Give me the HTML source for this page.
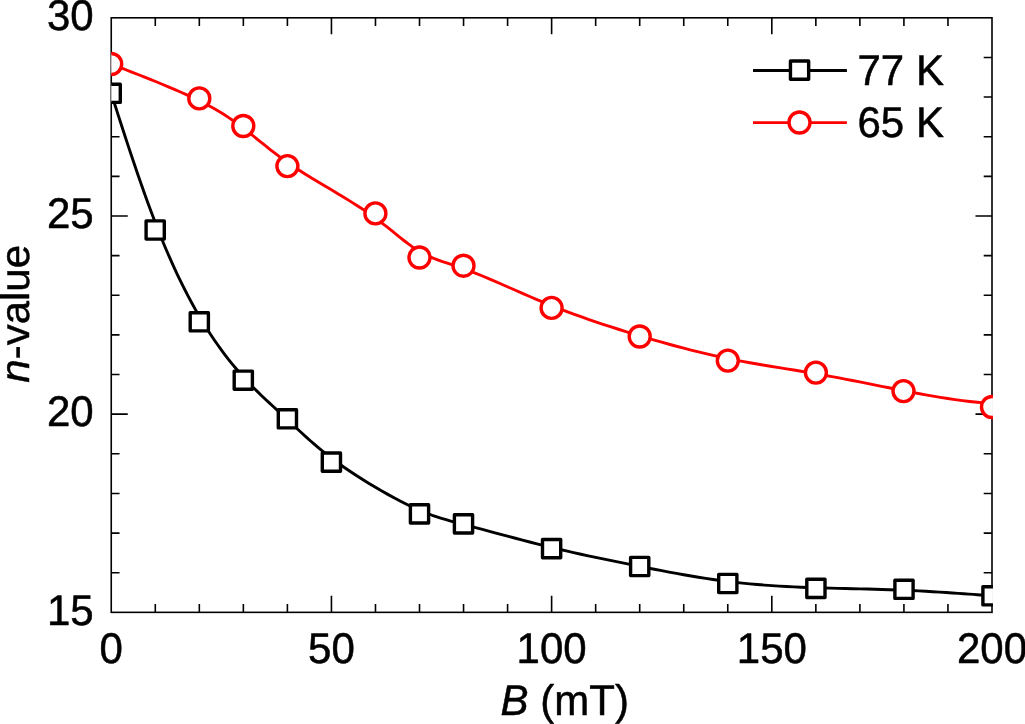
<!DOCTYPE html>
<html lang="en"><head><meta charset="utf-8"><title>n-value vs B</title>
<style>html,body{margin:0;padding:0;background:#fff;overflow:hidden}body{width:1025px;height:724px}svg{display:block;text-rendering:geometricPrecision}text{font-family:"Liberation Sans",sans-serif;font-size:42px;fill:#000}</style></head><body>
<svg width="1025" height="724" viewBox="0 0 1025 724">
<rect x="0" y="0" width="1025" height="724" fill="#fff"/>
<defs><clipPath id="plot"><rect x="111.25" y="16.80" width="881.70" height="596.55"/></clipPath></defs>
<path d="M155.29 612.35 v-8.30 M155.29 17.80 v8.30 M199.32 612.35 v-8.30 M199.32 17.80 v8.30 M243.36 612.35 v-8.30 M243.36 17.80 v8.30 M287.40 612.35 v-8.30 M287.40 17.80 v8.30 M331.44 612.35 v-16.50 M331.44 17.80 v16.50 M375.48 612.35 v-8.30 M375.48 17.80 v8.30 M419.51 612.35 v-8.30 M419.51 17.80 v8.30 M463.55 612.35 v-8.30 M463.55 17.80 v8.30 M507.59 612.35 v-8.30 M507.59 17.80 v8.30 M551.62 612.35 v-16.50 M551.62 17.80 v16.50 M595.66 612.35 v-8.30 M595.66 17.80 v8.30 M639.70 612.35 v-8.30 M639.70 17.80 v8.30 M683.74 612.35 v-8.30 M683.74 17.80 v8.30 M727.77 612.35 v-8.30 M727.77 17.80 v8.30 M771.81 612.35 v-16.50 M771.81 17.80 v16.50 M815.85 612.35 v-8.30 M815.85 17.80 v8.30 M859.89 612.35 v-8.30 M859.89 17.80 v8.30 M903.92 612.35 v-8.30 M903.92 17.80 v8.30 M947.96 612.35 v-8.30 M947.96 17.80 v8.30 M111.25 572.71 h8.30 M992.00 572.71 h-8.30 M111.25 533.08 h8.30 M992.00 533.08 h-8.30 M111.25 493.44 h8.30 M992.00 493.44 h-8.30 M111.25 453.80 h8.30 M992.00 453.80 h-8.30 M111.25 414.17 h16.50 M992.00 414.17 h-16.50 M111.25 374.53 h8.30 M992.00 374.53 h-8.30 M111.25 334.89 h8.30 M992.00 334.89 h-8.30 M111.25 295.26 h8.30 M992.00 295.26 h-8.30 M111.25 255.62 h8.30 M992.00 255.62 h-8.30 M111.25 215.98 h16.50 M992.00 215.98 h-16.50 M111.25 176.35 h8.30 M992.00 176.35 h-8.30 M111.25 136.71 h8.30 M992.00 136.71 h-8.30 M111.25 97.07 h8.30 M992.00 97.07 h-8.30 M111.25 57.44 h8.30 M992.00 57.44 h-8.30" fill="none" stroke="#000" stroke-width="1.6"/>
<rect x="111.25" y="17.80" width="880.75" height="594.55" fill="none" stroke="#000" stroke-width="1.6"/>
<g clip-path="url(#plot)">
<path d="M111.20 93.30 L111.20 93.31 L111.23 93.41 L111.31 93.66 L111.47 94.14 L111.73 94.95 L112.12 96.15 L112.66 97.82 L113.37 100.05 L114.29 102.91 L115.44 106.48 L116.85 110.85 L118.53 116.08 L120.52 122.24 L122.78 129.23 L125.29 136.97 L128.04 145.34 L130.99 154.24 L134.12 163.56 L137.40 173.20 L140.81 183.06 L144.32 193.02 L147.91 202.99 L151.55 212.86 L155.22 222.52 L158.89 231.88 L162.56 240.94 L166.23 249.71 L169.90 258.18 L173.58 266.36 L177.25 274.27 L180.92 281.90 L184.60 289.27 L188.27 296.38 L191.94 303.24 L195.61 309.86 L199.28 316.23 L202.95 322.38 L206.62 328.30 L210.29 334.00 L213.96 339.50 L217.63 344.79 L221.30 349.89 L224.97 354.81 L228.64 359.55 L232.31 364.12 L235.98 368.53 L239.65 372.79 L243.32 376.90 L246.99 380.88 L250.66 384.73 L254.33 388.47 L258.00 392.12 L261.68 395.68 L265.35 399.19 L269.02 402.63 L272.70 406.04 L276.37 409.43 L280.04 412.80 L283.71 416.18 L287.38 419.58 L291.06 423.01 L294.76 426.48 L298.51 429.98 L302.33 433.52 L306.26 437.10 L310.32 440.72 L314.52 444.40 L318.91 448.12 L323.50 451.88 L328.32 455.71 L333.39 459.58 L338.75 463.52 L344.40 467.50 L350.30 471.52 L356.41 475.54 L362.67 479.53 L369.04 483.46 L375.45 487.31 L381.86 491.04 L388.23 494.62 L394.49 498.03 L400.60 501.24 L406.50 504.22 L412.15 506.93 L417.51 509.37 L422.61 511.55 L427.51 513.50 L432.26 515.26 L436.91 516.86 L441.50 518.34 L446.09 519.72 L450.74 521.03 L455.49 522.32 L460.39 523.62 L465.49 524.95 L470.85 526.35 L476.50 527.84 L482.44 529.43 L488.63 531.09 L495.04 532.82 L501.67 534.60 L508.47 536.41 L515.42 538.26 L522.51 540.12 L529.69 541.99 L536.95 543.84 L544.26 545.67 L551.60 547.47 L558.94 549.22 L566.28 550.93 L573.62 552.59 L580.97 554.23 L588.31 555.82 L595.65 557.39 L602.99 558.93 L610.33 560.45 L617.67 561.94 L625.02 563.42 L632.36 564.89 L639.70 566.35 L647.04 567.80 L654.38 569.24 L661.72 570.66 L669.07 572.05 L676.41 573.41 L683.75 574.73 L691.09 576.01 L698.43 577.23 L705.77 578.40 L713.12 579.50 L720.46 580.53 L727.80 581.48 L735.14 582.35 L742.48 583.15 L749.82 583.86 L757.17 584.51 L764.51 585.09 L771.85 585.61 L779.19 586.08 L786.53 586.49 L793.88 586.86 L801.22 587.19 L808.56 587.48 L815.90 587.73 L823.24 587.96 L830.58 588.17 L837.92 588.36 L845.27 588.54 L852.61 588.71 L859.95 588.88 L867.29 589.06 L874.63 589.25 L881.97 589.46 L889.31 589.69 L896.65 589.94 L903.98 590.23 L911.31 590.56 L918.59 590.92 L925.76 591.30 L932.79 591.70 L939.60 592.12 L946.16 592.53 L952.42 592.94 L958.32 593.35 L963.81 593.73 L968.85 594.09 L973.37 594.42 L977.33 594.72 L980.70 594.97 L983.51 595.17 L985.81 595.34 L987.65 595.48 L989.09 595.58 L990.17 595.66 L990.94 595.72 L991.46 595.76 L991.77 595.78 L991.93 595.79 L991.99 595.80 L992.00 595.80" fill="none" stroke="#000" stroke-width="2.9" stroke-linejoin="round"/>
<g fill="#fff" stroke="#000" stroke-width="3.4" stroke-linejoin="round">
<rect x="102.10" y="84.20" width="18.2" height="18.2"/>
<rect x="146.10" y="220.90" width="18.2" height="18.2"/>
<rect x="190.20" y="312.70" width="18.2" height="18.2"/>
<rect x="234.20" y="371.10" width="18.2" height="18.2"/>
<rect x="278.30" y="409.70" width="18.2" height="18.2"/>
<rect x="322.30" y="453.00" width="18.2" height="18.2"/>
<rect x="410.40" y="504.80" width="18.2" height="18.2"/>
<rect x="454.40" y="514.80" width="18.2" height="18.2"/>
<rect x="542.50" y="539.50" width="18.2" height="18.2"/>
<rect x="630.60" y="557.40" width="18.2" height="18.2"/>
<rect x="718.70" y="574.40" width="18.2" height="18.2"/>
<rect x="806.80" y="579.30" width="18.2" height="18.2"/>
<rect x="894.90" y="580.20" width="18.2" height="18.2"/>
<rect x="982.90" y="586.70" width="18.2" height="18.2"/>
</g>
<path d="M111.20 64.00 L111.21 64.00 L111.27 64.03 L111.43 64.09 L111.74 64.21 L112.26 64.41 L113.04 64.72 L114.11 65.14 L115.55 65.70 L117.39 66.42 L119.70 67.32 L122.51 68.42 L125.88 69.73 L129.85 71.28 L134.35 73.05 L139.30 75.00 L144.65 77.12 L150.29 79.39 L156.17 81.77 L162.19 84.26 L168.30 86.81 L174.40 89.41 L180.43 92.04 L186.31 94.66 L191.95 97.27 L197.31 99.83 L202.38 102.35 L207.20 104.85 L211.79 107.34 L216.18 109.83 L220.38 112.32 L224.44 114.83 L228.37 117.38 L232.19 119.96 L235.94 122.60 L239.64 125.30 L243.32 128.08 L246.99 130.95 L250.69 133.89 L254.45 136.92 L258.28 140.03 L262.21 143.21 L266.27 146.46 L270.48 149.78 L274.87 153.17 L279.46 156.61 L284.28 160.12 L289.36 163.68 L294.72 167.30 L300.36 170.97 L306.27 174.68 L312.37 178.42 L318.63 182.20 L324.99 186.01 L331.40 189.83 L337.81 193.67 L344.17 197.52 L350.43 201.37 L356.53 205.21 L362.44 209.05 L368.08 212.87 L373.44 216.66 L378.52 220.41 L383.34 224.11 L387.93 227.72 L392.32 231.24 L396.53 234.64 L400.59 237.90 L404.52 241.01 L408.35 243.94 L412.11 246.68 L415.81 249.22 L419.48 251.52 L423.16 253.58 L426.86 255.43 L430.61 257.11 L434.43 258.67 L438.36 260.14 L442.42 261.56 L446.62 262.98 L451.01 264.42 L455.60 265.95 L460.42 267.58 L465.49 269.38 L470.85 271.37 L476.50 273.58 L482.44 276.00 L488.63 278.61 L495.04 281.36 L501.67 284.24 L508.47 287.22 L515.42 290.28 L522.51 293.37 L529.69 296.48 L536.95 299.58 L544.26 302.64 L551.60 305.63 L558.94 308.54 L566.28 311.35 L573.62 314.08 L580.97 316.73 L588.31 319.31 L595.65 321.82 L602.99 324.27 L610.33 326.66 L617.67 329.00 L625.02 331.29 L632.36 333.54 L639.70 335.75 L647.04 337.93 L654.38 340.07 L661.72 342.18 L669.07 344.24 L676.41 346.25 L683.75 348.20 L691.09 350.10 L698.43 351.94 L705.77 353.71 L713.12 355.41 L720.46 357.04 L727.80 358.58 L735.14 360.05 L742.48 361.44 L749.82 362.77 L757.16 364.04 L764.50 365.28 L771.84 366.48 L779.18 367.67 L786.51 368.85 L793.84 370.03 L801.17 371.22 L808.49 372.43 L815.82 373.68 L823.14 374.98 L830.45 376.31 L837.77 377.68 L845.08 379.07 L852.39 380.49 L859.71 381.93 L867.02 383.38 L874.34 384.85 L881.66 386.31 L888.99 387.77 L896.32 389.23 L903.65 390.67 L910.99 392.09 L918.34 393.48 L925.69 394.84 L933.04 396.14 L940.40 397.37 L947.76 398.54 L955.12 399.62 L962.48 400.60 L969.84 401.48 L977.20 402.24 L984.56 402.86 L991.92 403.35 L999.26 403.69 L1006.55 403.89 L1013.74 403.98 L1020.77 403.96 L1027.59 403.85 L1034.16 403.67 L1040.42 403.43 L1046.32 403.16 L1051.81 402.86 L1056.85 402.56 L1061.37 402.27 L1065.33 402.00 L1068.70 401.77 L1071.51 401.58 L1073.81 401.42 L1075.65 401.30 L1077.09 401.20 L1078.17 401.12 L1078.94 401.07 L1079.46 401.04 L1079.77 401.02 L1079.93 401.00 L1079.99 401.00 L1080.00 401.00" fill="none" stroke="#f00" stroke-width="2.9" stroke-linejoin="round"/>
<g fill="#fff" stroke="#f00" stroke-width="3.4">
<circle cx="111.20" cy="64.00" r="10.5"/>
<circle cx="199.30" cy="98.40" r="10.5"/>
<circle cx="243.30" cy="126.00" r="10.5"/>
<circle cx="287.40" cy="166.10" r="10.5"/>
<circle cx="375.40" cy="213.40" r="10.5"/>
<circle cx="419.50" cy="257.50" r="10.5"/>
<circle cx="463.50" cy="265.70" r="10.5"/>
<circle cx="551.60" cy="307.90" r="10.5"/>
<circle cx="639.70" cy="336.50" r="10.5"/>
<circle cx="727.80" cy="360.60" r="10.5"/>
<circle cx="815.90" cy="372.60" r="10.5"/>
<circle cx="903.50" cy="391.10" r="10.5"/>
<circle cx="992.00" cy="407.00" r="10.5"/>
</g>
</g>
<path d="M753.0 70.45H846.9" stroke="#000" stroke-width="2.9"/>
<rect x="790.45" y="61.0" width="18.2" height="18.2" fill="#fff" stroke="#000" stroke-width="3.4" stroke-linejoin="round"/>
<path d="M753.0 122.65H846.9" stroke="#f00" stroke-width="2.9"/>
<circle cx="799.5" cy="122.5" r="10.5" fill="#fff" stroke="#f00" stroke-width="3.4"/>
<g stroke="#000" stroke-width="0.5" stroke-linejoin="round">
<text transform="translate(857.50 85.10) scale(1 1.02)">77 K</text>
<text transform="translate(857.50 137.00) scale(1 1.02)">65 K</text>
<text transform="translate(93.60 624.65) scale(1 1.02)" text-anchor="end">15</text>
<text transform="translate(93.60 426.47) scale(1 1.02)" text-anchor="end">20</text>
<text transform="translate(93.60 228.28) scale(1 1.02)" text-anchor="end">25</text>
<text transform="translate(93.60 30.10) scale(1 1.02)" text-anchor="end">30</text>
<text transform="translate(111.25 663.00) scale(1 1.02)" text-anchor="middle">0</text>
<text transform="translate(331.44 663.00) scale(1 1.02)" text-anchor="middle">50</text>
<text transform="translate(551.62 663.00) scale(1 1.02)" text-anchor="middle">100</text>
<text transform="translate(771.81 663.00) scale(1 1.02)" text-anchor="middle">150</text>
<text transform="translate(992.00 663.00) scale(1 1.02)" text-anchor="middle">200</text>
<text transform="translate(500.60 714.50) scale(1 1.02)"><tspan font-style="italic">B</tspan> (mT)</text>
<text transform="translate(29.30 313.80) rotate(-90) scale(1 0.97)" text-anchor="middle" font-size="41.6"><tspan font-style="italic">n</tspan>-value</text>
</g>
</svg></body></html>
